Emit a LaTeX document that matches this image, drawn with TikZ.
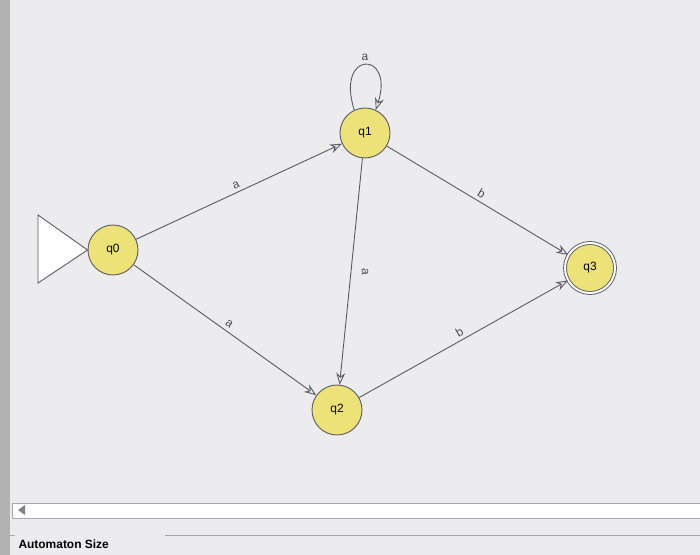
\documentclass[tikz,border=0pt]{standalone}
\usepackage{fontspec}
\setmainfont{Liberation Sans}
\usetikzlibrary{arrows.meta}
\definecolor{bg}{RGB}{236,236,238}
\definecolor{nodefill}{RGB}{236,226,120}
\definecolor{edge}{RGB}{90,90,100}
\tikzset{
  state/.style={circle,draw=edge,fill=nodefill,minimum size=50bp,inner sep=0pt,font=\fontsize{12}{14}\selectfont,line width=0.9pt},
  tr/.style={draw=edge,line width=0.9pt,-{Stealth[length=12bp,width=9bp,open]}},
  lbl/.style={font=\fontsize{12}{14}\selectfont,text=black!70}
}
\begin{document}
\begin{tikzpicture}[x=1bp,y=-1bp]
\fill[bg] (0,0) rectangle (700,555);
\useasboundingbox (0,0) rectangle (700,555);
\fill[gray!60] (0,0) rectangle (10,555);
\node[state] (q0) at (113,250) {q0};
\node[state] (q1) at (365,133) {q1};
\node[state] (q2) at (337,410) {q2};
\node[state,double,double distance=2bp] (q3) at (590,268) {q3};
\coordinate (s1) at (38,215);
\coordinate (s2) at (38,283);
\draw[edge,line width=0.9pt,fill=white] (s1) -- (q0.west) -- (s2) -- cycle;
\draw[tr] (q0) -- node[lbl,above,sloped] {a} (q1);
\draw[tr] (q0) -- node[lbl,above,sloped] {a} (q2);
\draw[tr] (q1) -- node[lbl,xshift=14bp,rotate=-90] {a} (q2);
\draw[tr] (q1) -- node[lbl,above,sloped] {b} (q3);
\draw[tr] (q2) -- node[lbl,above,sloped] {b} (q3);
\draw[tr] (q1.115) .. controls (335,50) and (395,50) .. node[lbl,above=1bp] {a} (q1.65);
\draw[gray!70,fill=white] (12,503) rectangle (700,518);
\fill[gray] (18,510) -- (25,505) -- (25,515) -- cycle;
\draw[gray!70] (10,535) -- (15,535);
\draw[gray!70] (165,535) -- (700,535);
\node[font=\fontsize{12}{14}\selectfont\bfseries,anchor=west] (size) at (15,544) {Automaton Size};
\end{tikzpicture}
\end{document}
